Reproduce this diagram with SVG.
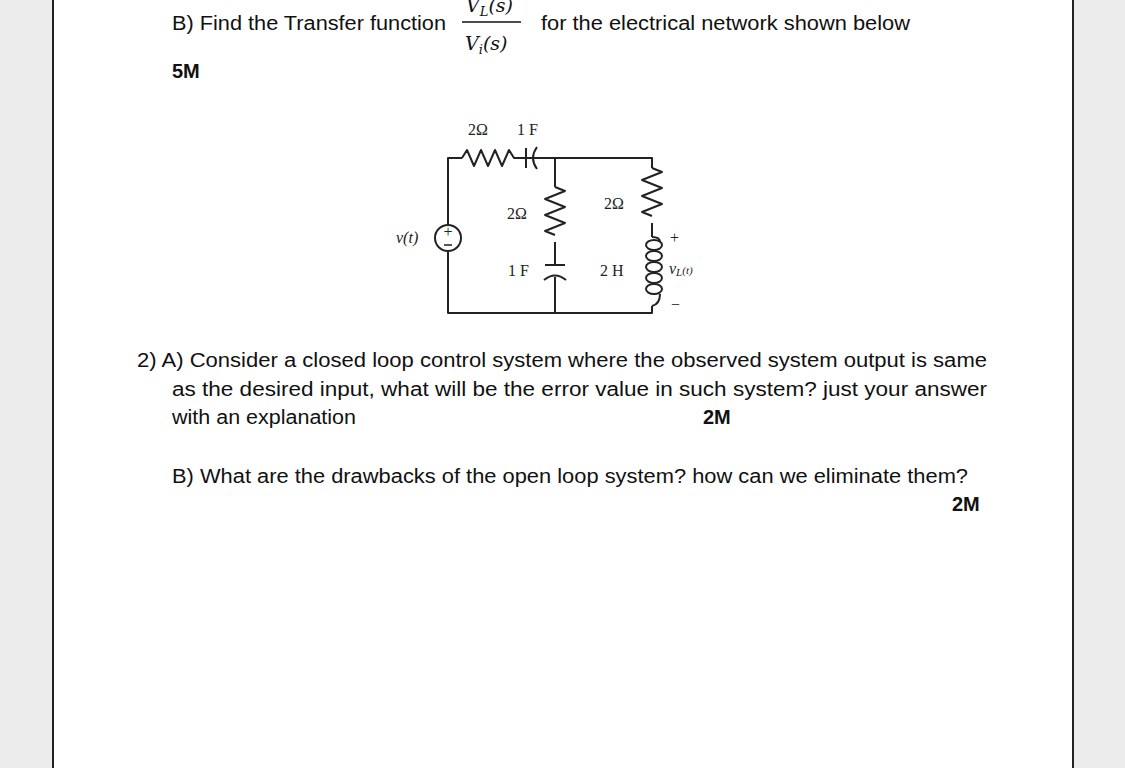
<svg xmlns="http://www.w3.org/2000/svg" width="1125" height="768" viewBox="0 0 1125 768">
<style>
.t{font-family:"Liberation Sans",Arial,sans-serif;font-size:20px;fill:#111}
.b{font-weight:bold}
.m{font-family:"DejaVu Serif","Liberation Serif",serif;font-style:italic;font-size:19px;fill:#111}
.c{font-family:"Liberation Serif","Times New Roman",serif;font-size:16px;fill:#222}
.w{fill:none;stroke:#222;stroke-width:2;stroke-linejoin:round}
</style>
<rect width="1125" height="768" fill="#ececec"/>
<rect x="53" y="-2" width="1020" height="772" fill="#fff" stroke="#222" stroke-width="2"/>
<g id="header">
<text class="t" x="172" y="30" textLength="274" lengthAdjust="spacingAndGlyphs">B) Find the Transfer function</text>
<text class="m" x="466" y="12">V<tspan font-size="13" dy="4">L</tspan><tspan dy="-4">(s)</tspan></text>
<line x1="462" y1="22" x2="521" y2="22" stroke="#111" stroke-width="1.5"/>
<text class="m" x="465" y="50">V<tspan font-size="13" dy="4">i</tspan><tspan dy="-4">(s)</tspan></text>
<text class="t" x="541" y="30" textLength="369" lengthAdjust="spacingAndGlyphs">for the electrical network shown below</text>
<text class="t b" x="172" y="78">5M</text>
</g>
<g id="circuit">
<g class="connectors">
<path class="w" d="M448,225 V158 H462 M526,158 H652 V168 M448,251 V313 H652 V306 M555,158 V187 M555,242 V265 M555,277 V313 M652,223 V237"/>
</g>
<path class="w" d="M462,158 l5,-8 l7,16 l7,-16 l7,16 l7,-16 l7,16 l7,-16 l5,8 H526"/>
<path class="w" d="M526,148 V168 M537,147 q-8,11 0,22"/>
<path class="w" d="M555,187 l10,4 l-20,8 l20,8 l-20,8 l20,8 l-20,8 l10,4"/>
<path class="w" d="M545,265 H565 M544,280 q11,-9 22,0"/>
<path class="w" d="M652,168 l10,4 l-20,8 l20,8 l-20,8 l20,8 l-20,8 l10,4"/>
<g class="w">
<path d="M652,237 q8,0 8,5"/>
<ellipse cx="654" cy="245" rx="8" ry="5"/>
<ellipse cx="654" cy="256" rx="8" ry="5"/>
<ellipse cx="654" cy="267" rx="8" ry="5"/>
<ellipse cx="654" cy="278" rx="8" ry="5"/>
<ellipse cx="654" cy="289" rx="8" ry="5"/>
<path d="M660,294 q0,10 -8,12"/>
</g>
<circle cx="448" cy="238" r="13" fill="#fff" stroke="#222" stroke-width="2"/>
<text class="c" x="448" y="237" text-anchor="middle" font-size="14">+</text>
<line x1="444" y1="245" x2="452" y2="245" stroke="#222" stroke-width="1.5"/>
<text class="c" x="468" y="135">2Ω</text>
<text class="c" x="517" y="135">1 F</text>
<text class="c" x="507" y="219">2Ω</text>
<text class="c" x="604" y="209">2Ω</text>
<text class="c" x="508" y="276">1 F</text>
<text class="c" x="600" y="276">2 H</text>
<text class="c" x="396" y="243" font-size="12" font-style="italic">v(t)</text>
<text class="c" x="669" y="274" font-size="13" font-style="italic">v<tspan font-size="11" dy="2">L</tspan><tspan dy="-2" font-size="11">(t)</tspan></text>
<text class="c" x="670" y="243" font-size="13">+</text>
<text class="c" x="671" y="310" font-size="14">−</text>
</g>
<g id="questions">
<text class="t" x="137" y="367" textLength="850" lengthAdjust="spacingAndGlyphs">2) A) Consider a closed loop control system where the observed system output is same</text>
<text class="t" x="172" y="396" textLength="815" lengthAdjust="spacingAndGlyphs">as the desired input, what will be the error value in such system? just your answer</text>
<text class="t" x="172" y="424" textLength="184" lengthAdjust="spacingAndGlyphs">with an explanation</text>
<text class="t b" x="703" y="424">2M</text>
<text class="t" x="172" y="483" textLength="796" lengthAdjust="spacingAndGlyphs">B)  What are the drawbacks of the open loop system? how can we eliminate them?</text>
<text class="t b" x="952" y="511">2M</text>
</g>
</svg>
